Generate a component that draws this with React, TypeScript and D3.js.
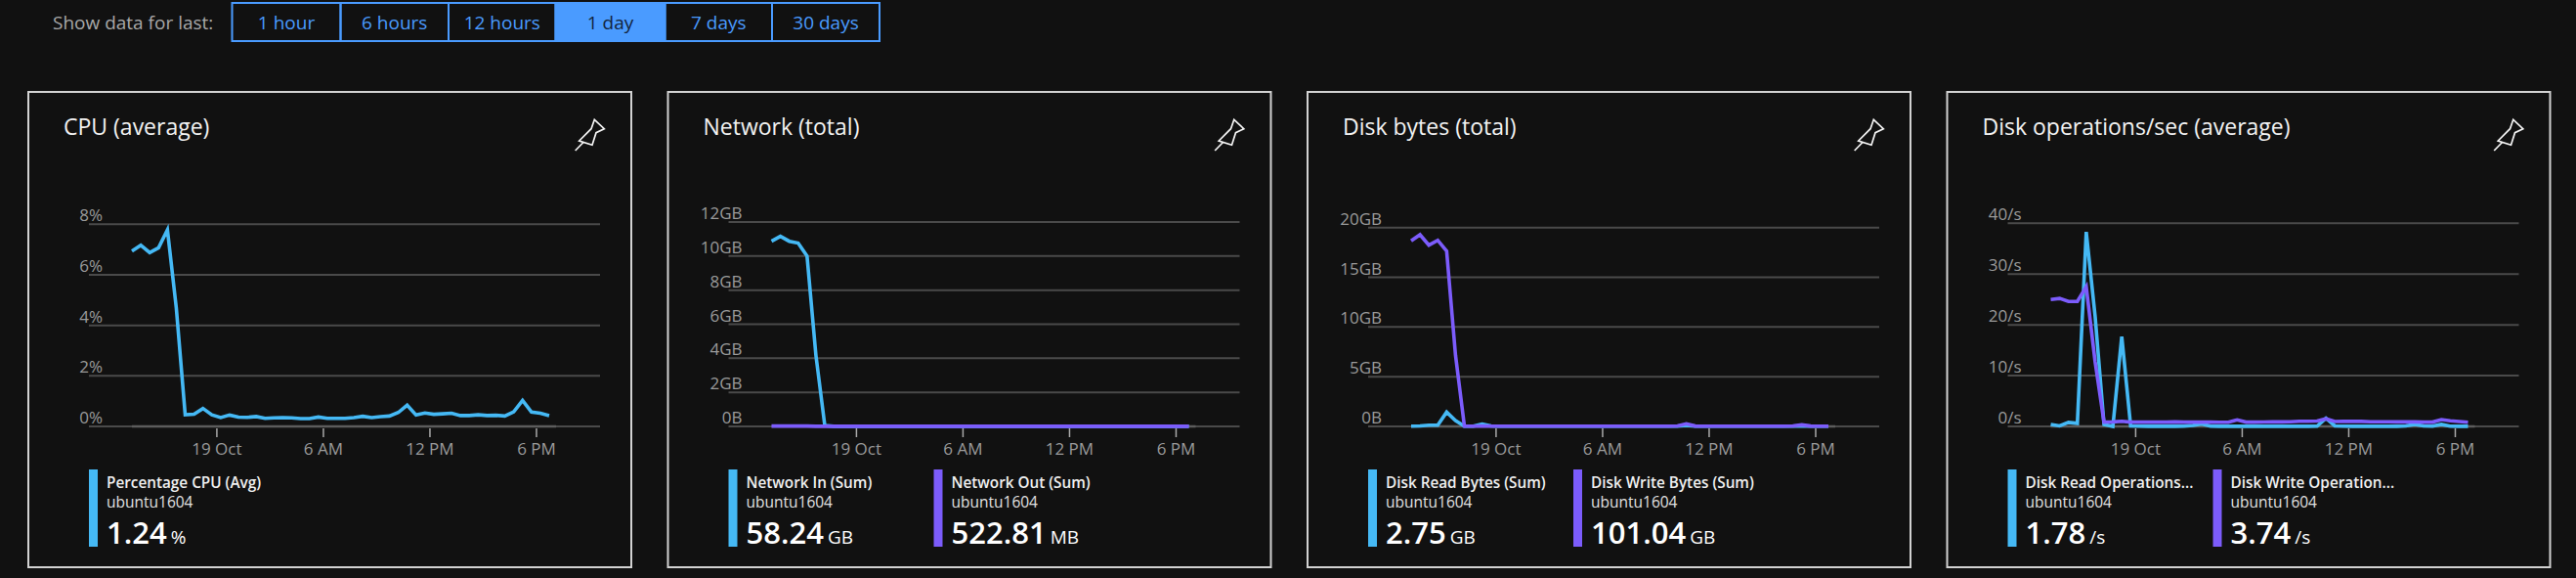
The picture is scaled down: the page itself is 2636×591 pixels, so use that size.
import React from "react";
import * as d3 from "d3";

const rangeLabels = ["1 hour", "6 hours", "12 hours", "1 day", "7 days", "30 days"];
const activeRange = "1 day";
const tickLabels = ["19 Oct", "6 AM", "12 PM", "6 PM"];

const cpu = [6.94,7.17,6.88,7.07,7.78,4.68,0.46,0.48,0.71,0.46,0.35,0.45,0.37,0.36,0.39,0.32,0.34,0.35,0.34,0.31,0.31,0.37,0.32,0.32,0.32,0.35,0.40,0.35,0.39,0.41,0.55,0.84,0.45,0.53,0.48,0.50,0.52,0.43,0.43,0.46,0.43,0.44,0.41,0.58,1.03,0.57,0.52,0.43];
const netIn = [10.87,11.16,10.87,10.76,10.0,4.17,0.05,0.01,0.01,0.01,0.01,0.01,0.01,0.01,0.01,0.01,0.01,0.01,0.01,0.01,0.01,0.01,0.01,0.01,0.01,0.01,0.01,0.01,0.01,0.01,0.01,0.01,0.01,0.01,0.01,0.01,0.01,0.01,0.01,0.01,0.01,0.01,0.01,0.01,0.01,0.01,0.01,0.01];
const netOut = [0.02,0.02,0.02,0.02,0.02,0.01,0.01,0.01,0.01,0.01,0.01,0.01,0.01,0.01,0.01,0.01,0.01,0.01,0.01,0.01,0.01,0.01,0.01,0.01,0.01,0.01,0.01,0.01,0.01,0.01,0.01,0.01,0.01,0.01,0.01,0.01,0.01,0.01,0.01,0.01,0.01,0.01,0.01,0.01,0.01,0.01,0.01,0.01];
const diskRead = [0.03,0.05,0.13,0.13,1.44,0.59,0.03,0.03,0.23,0.05,0.02,0.02,0.02,0.02,0.02,0.02,0.02,0.03,0.02,0.02,0.02,0.02,0.02,0.02,0.02,0.02,0.02,0.02,0.02,0.02,0.02,0.1,0.02,0.02,0.02,0.02,0.02,0.02,0.02,0.02,0.02,0.03,0.02,0.02,0.05,0.02,0.02,0.02];
const diskWrite = [18.66,19.28,18.23,18.72,17.64,7.15,0.03,0.03,0.05,0.03,0.03,0.03,0.03,0.03,0.03,0.03,0.03,0.03,0.03,0.03,0.03,0.03,0.03,0.03,0.03,0.03,0.03,0.03,0.03,0.03,0.05,0.26,0.04,0.03,0.03,0.03,0.03,0.03,0.03,0.03,0.03,0.03,0.03,0.05,0.16,0.04,0.03,0.03];
const opsRead = [0.4,0.1,0.8,0.6,38.3,21.7,0.4,0,17.7,0.1,0.05,0.03,0.03,0.03,0.03,0.05,0.2,0.5,0.05,0.03,0.03,0.03,0.03,0.03,0.03,0.03,0.03,0.03,0.03,0.03,0.05,1.6,0.1,0.05,0.03,0.03,0.03,0.03,0.03,0.03,0.1,0.4,0.1,0.05,0.4,0.05,0.03,0.03];
const opsWrite = [25.0,25.2,24.6,24.6,27.5,12.7,0.85,0.9,1.0,0.85,0.85,0.85,0.88,0.85,0.9,0.85,0.85,0.85,0.85,0.82,0.82,1.28,0.85,0.85,0.88,0.9,0.9,0.92,1.0,1.0,1.05,1.5,0.95,1.0,0.98,0.98,0.92,0.92,0.92,0.9,0.92,0.9,0.85,0.85,1.35,1.1,0.95,0.83];

const BLUE = "#45b9f5";
const PURPLE = "#7c5cfc";

const panels = [
  { title: "CPU (average)", yTicks: [0, 2, 4, 6, 8], yFmt: (v: number) => v + "%", top: 229.3,
    series: [{ values: cpu, color: BLUE }],
    legend: [{ name: "Percentage CPU (Avg)", value: "1.24", unit: "%", color: BLUE }] },
  { title: "Network (total)", yTicks: [0, 2, 4, 6, 8, 10, 12], yFmt: (v: number) => (v ? v + "GB" : "0B"), top: 227,
    series: [{ values: netIn, color: BLUE }, { values: netOut, color: PURPLE }],
    legend: [{ name: "Network In (Sum)", value: "58.24", unit: "GB", color: BLUE }, { name: "Network Out (Sum)", value: "522.81", unit: "MB", color: PURPLE }] },
  { title: "Disk bytes (total)", yTicks: [0, 5, 10, 15, 20], yFmt: (v: number) => (v ? v + "GB" : "0B"), top: 232.7,
    series: [{ values: diskRead, color: BLUE }, { values: diskWrite, color: PURPLE }],
    legend: [{ name: "Disk Read Bytes (Sum)", value: "2.75", unit: "GB", color: BLUE }, { name: "Disk Write Bytes (Sum)", value: "101.04", unit: "GB", color: PURPLE }] },
  { title: "Disk operations/sec (average)", yTicks: [0, 10, 20, 30, 40], yFmt: (v: number) => v + "/s", top: 228.3,
    series: [{ values: opsRead, color: BLUE }, { values: opsWrite, color: PURPLE }],
    legend: [{ name: "Disk Read Operations...", value: "1.78", unit: "/s", color: BLUE }, { name: "Disk Write Operation...", value: "3.74", unit: "/s", color: PURPLE }] },
];

const FONT = "'Open Sans', 'Noto Sans', sans-serif";
const HALF_HOUR = 30 * 60 * 1000;
const startTime = Date.UTC(2018, 9, 18, 19, 13);
const PANEL_TOP = 94;
const ZERO_Y = 436;

function Panel({ p, left }: { p: (typeof panels)[number]; left: number }) {
  const n = p.series[0].values.length;
  const times = d3.range(n).map((i) => new Date(startTime + i * HALF_HOUR));
  const x = d3.scaleUtc().domain([times[0], times[n - 1]]).range([left + 106, left + 533]);
  const y = d3.scaleLinear().domain([0, p.yTicks[p.yTicks.length - 1]]).range([ZERO_Y, p.top]);
  const ticks = d3.utcHour.every(6)!.range(times[0], times[n - 1]);
  return (
    <g>
      <rect x={left} y={PANEL_TOP} width={617} height={486} fill="none" stroke="#d2d2d2" strokeWidth={2} />
      <text x={left + 36} y={PANEL_TOP + 44} fill="#f2f2f2" fontSize={23} fontFamily={FONT}>{p.title}</text>
      <g transform={`translate(${left + 551},${PANEL_TOP + 21})`} fill="none" stroke="#f5f5f5" strokeWidth={1.7}>
        <path d="M28.3 7.3 L38.3 16.7 L30 20.7 L26 33.3 L12.7 29 L25 16.7 Z" />
        <path d="M17 30.5 L8.7 39" />
      </g>
      {p.yTicks.map((t) => (
        <g key={t}>
          <line x1={left + 62} x2={left + 585} y1={y(t)} y2={y(t)} stroke="#4a4a4a" strokeWidth={2} />
          <text x={left + 76} y={y(t) - 3} textAnchor="end" fill="#9a9a9a" fontSize={17} fontFamily={FONT}>{p.yFmt(t)}</text>
        </g>
      ))}
      <line x1={x(times[0])} x2={left + 540} y1={ZERO_Y} y2={ZERO_Y} stroke="#5c5c5c" strokeWidth={2.4} />
      {ticks.map((t, i) => (
        <g key={i}>
          <line x1={x(t)} x2={x(t)} y1={438} y2={447} stroke="#aaaaaa" strokeWidth={1.5} />
          <text x={x(t)} y={465} textAnchor="middle" fill="#9a9a9a" fontSize={17} fontFamily={FONT}>{tickLabels[i]}</text>
        </g>
      ))}
      {p.series.map((s, i) => {
        const line = d3.line<number>().x((_, j) => x(times[j])).y((v) => y(v));
        return <path key={i} d={line(s.values)!} fill="none" stroke={s.color} strokeWidth={3.6} strokeLinejoin="miter" />;
      })}
      {p.legend.map((l, i) => {
        const lx = left + 62 + i * 210;
        return (
          <g key={i}>
            <rect x={lx} y={480} width={9} height={79} fill={l.color} />
            <text x={lx + 18} y={499} fill="#f0f0f0" fontSize={15.3} fontWeight={600} fontFamily={FONT}>{l.name}</text>
            <text x={lx + 18} y={519} fill="#e0e0e0" fontSize={15.5} fontFamily={FONT}>ubuntu1604</text>
            <text x={lx + 18} y={556} fill="#ffffff" fontSize={31} fontWeight={600} fontFamily={FONT}>
              {l.value}
              <tspan dx={4} fontSize={19} fontWeight={500}>{l.unit}</tspan>
            </text>
          </g>
        );
      })}
    </g>
  );
}

export default function App() {
  const edges = [237.5, 348.5, 459, 568.5, 680.5, 790, 900];
  return (
    <svg width={2636} height={591} style={{ position: "absolute", left: 0, top: 0, display: "block" }}>
      <rect width={2636} height={591} fill="#111111" />
      <text x={54} y={30} fill="#a8a8a8" fontSize={19} fontFamily={FONT}>Show data for last:</text>
      {rangeLabels.map((r, i) => {
        const active = r === activeRange;
        return (
          <g key={r}>
            <rect x={edges[i]} y={3} width={edges[i + 1] - edges[i]} height={39} fill={active ? "#4a9bff" : "none"} stroke="#4a9bff" strokeWidth={2} />
            <text x={(edges[i] + edges[i + 1]) / 2} y={30} textAnchor="middle" fill={active ? "#13243c" : "#4a9bff"} fontSize={19} fontFamily={FONT}>{r}</text>
          </g>
        );
      })}
      {panels.map((p, i) => (
        <Panel key={p.title} p={p} left={29 + i * 654.5} />
      ))}
    </svg>
  );
}
